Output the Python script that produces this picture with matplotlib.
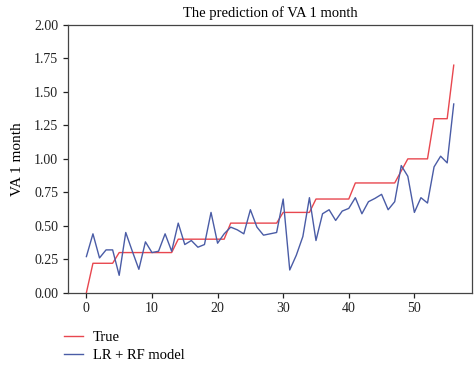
import matplotlib.pyplot as plt

plt.rcParams.update({
    "font.family": ["Liberation Serif", "DejaVu Serif"],
    "font.size": 10,
    "axes.linewidth": 0.9,
    "axes.edgecolor": "#444444",
})

# logMAR values, true vs predicted
true_va = [
    0.0, 0.22, 0.22, 0.22, 0.22, 0.30, 0.30, 0.30, 0.30, 0.30,
    0.30, 0.30, 0.30, 0.30, 0.40, 0.40, 0.40, 0.40, 0.40, 0.40,
    0.40, 0.40, 0.52, 0.52, 0.52, 0.52, 0.52, 0.52, 0.52, 0.52,
    0.60, 0.60, 0.60, 0.60, 0.60, 0.70, 0.70, 0.70, 0.70, 0.70,
    0.70, 0.82, 0.82, 0.82, 0.82, 0.82, 0.82, 0.82, 0.91, 1.00,
    1.00, 1.00, 1.00, 1.30, 1.30, 1.30, 1.70,
]
pred_va = [
    0.27, 0.44, 0.26, 0.32, 0.32, 0.13, 0.45, 0.31, 0.175, 0.38,
    0.30, 0.31, 0.44, 0.31, 0.52, 0.36, 0.39, 0.34, 0.36, 0.60,
    0.37, 0.44, 0.49, 0.47, 0.44, 0.62, 0.49, 0.43, 0.44, 0.45,
    0.70, 0.17, 0.28, 0.42, 0.71, 0.39, 0.59, 0.62, 0.54, 0.61,
    0.63, 0.71, 0.59, 0.68, 0.705, 0.735, 0.62, 0.68, 0.95, 0.87,
    0.60, 0.71, 0.67, 0.94, 1.02, 0.97, 1.41,
]
idx = list(range(len(true_va)))

fig = plt.figure(figsize=(4.74, 3.65), dpi=100)
ax = fig.add_axes([0.1435, 0.198, 0.8525, 0.7335])

ax.plot(idx, true_va, color="#e8474f", lw=1.0, label="True")
ax.plot(idx, pred_va, color="#4a5ca6", lw=1.0, label="LR + RF model")

ax.set_ylim(0, 2.0)
ax.set_yticks([0, 0.25, 0.5, 0.75, 1.0, 1.25, 1.5, 1.75, 2.0])
ax.set_yticklabels([f"{v:.2f}" for v in ax.get_yticks()])
ax.set_xticks([0, 10, 20, 30, 40, 50])
ax.tick_params(direction="out", length=3.5, width=0.9, colors="#222222", top=False, right=False)
ax.set_ylabel("VA 1 month", fontsize=11, labelpad=7)
ax.set_title("The prediction of VA 1 month", fontsize=10.5, pad=6)

fig.legend(loc="upper left", bbox_to_anchor=(0.135, 0.093), frameon=False,
           handlelength=1.3, handletextpad=0.7, labelspacing=0.3,
           borderaxespad=0, borderpad=0, fontsize=10.5)

fig.savefig("out.png", dpi=100)
